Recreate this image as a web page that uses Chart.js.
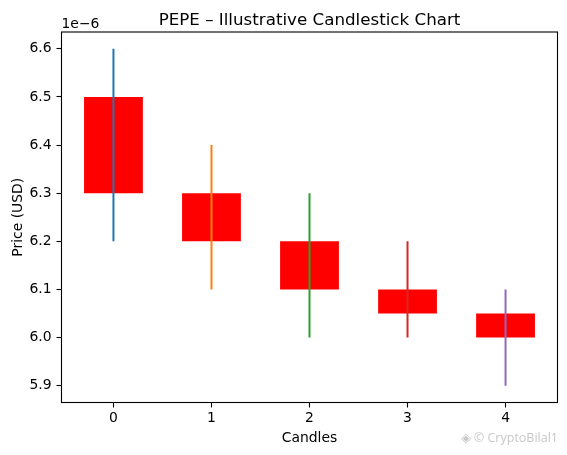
<!DOCTYPE html>
<html>
<head>
<meta charset="utf-8">
<script src="https://cdn.jsdelivr.net/npm/chart.js@4/dist/chart.umd.min.js"></script>
<style>
html,body{margin:0;padding:0;background:#fff;}
#wrap{width:567px;height:455px;position:relative;}
</style>
</head>
<body>
<div id="wrap"><canvas id="c" width="567" height="455"></canvas></div>
<script>
// ---- data ----
const candles = [0, 1, 2, 3, 4];
const opens  = [6.5e-6, 6.3e-6, 6.2e-6, 6.1e-6, 6.05e-6];
const closes = [6.3e-6, 6.2e-6, 6.1e-6, 6.05e-6, 6.0e-6];
const highs  = [6.6e-6, 6.4e-6, 6.3e-6, 6.2e-6, 6.1e-6];
const lows   = [6.2e-6, 6.1e-6, 6.0e-6, 6.0e-6, 5.9e-6];
const wickColors = ['#1f77b4', '#ff7f0e', '#2ca02c', '#d62728', '#9467bd'];
const xTicks = [0, 1, 2, 3, 4];
const yTicks = [5.9e-6, 6.0e-6, 6.1e-6, 6.2e-6, 6.3e-6, 6.4e-6, 6.5e-6, 6.6e-6];
const yTickLabels = ['5.9', '6.0', '6.1', '6.2', '6.3', '6.4', '6.5', '6.6'];
const titleText = 'PEPE \u2013 Illustrative Candlestick Chart';
const xTitle = 'Candles';
const yTitle = 'Price (USD)';
const offsetText = '1e\u22126';
const watermark = '\u25C8 \u00A9 CryptoBilal1';

const FONT = "'DejaVu Sans', sans-serif";

const datasets = [];
datasets.push({
  type: 'bar',
  label: 'body',
  data: candles.map((c, i) => ({x: c, y: [Math.min(opens[i], closes[i]), Math.max(opens[i], closes[i])]})),
  backgroundColor: '#ff0000',
  borderWidth: 0,
  barPercentage: 0.6,
  categoryPercentage: 1.0,
  order: 2
});
candles.forEach((c, i) => {
  datasets.push({
    type: 'line',
    label: 'wick' + i,
    data: [{x: c, y: lows[i]}, {x: c, y: highs[i]}],
    borderColor: wickColors[i],
    borderWidth: 2,
    pointRadius: 0,
    fill: false,
    order: 1
  });
});

const framePlugin = {
  id: 'frame',
  afterDraw(chart) {
    const ctx = chart.ctx, a = chart.chartArea;
    ctx.save();
    ctx.strokeStyle = '#000';
    ctx.lineWidth = 1.1;
    ctx.strokeRect(a.left, a.top, a.right - a.left, a.bottom - a.top);
    ctx.fillStyle = '#000';
    ctx.font = '16.7px ' + FONT;
    ctx.textAlign = 'center';
    ctx.textBaseline = 'alphabetic';
    ctx.fillText(titleText, (a.left + a.right) / 2, 24.5);
    ctx.font = '13.9px ' + FONT;
    ctx.textAlign = 'left';
    ctx.fillText(offsetText, a.left, 28);
    ctx.textAlign = 'center';
    ctx.fillText(xTitle, (a.left + a.right) / 2, 442);
    ctx.save();
    ctx.translate(22, (a.top + a.bottom) / 2);
    ctx.rotate(-Math.PI / 2);
    ctx.fillText(yTitle, 0, 0);
    ctx.restore();
    ctx.fillStyle = '#c8c8c8';
    ctx.font = "12.5px 'Open Sans', sans-serif";
    ctx.textAlign = 'right';
    ctx.textBaseline = 'middle';
    ctx.fillText(watermark, 558, 438);
    ctx.restore();
  }
};

new Chart(document.getElementById('c'), {
  data: { datasets },
  options: {
    responsive: false,
    animation: false,
    devicePixelRatio: 1,
    layout: { padding: { top: 32, right: 9.5, left: 0, bottom: 0 } },
    plugins: { legend: { display: false }, tooltip: { enabled: false }, title: { display: false } },
    scales: {
      x: {
        type: 'linear',
        min: -0.53,
        max: 4.53,
        offset: false,
        afterBuildTicks(s) { s.ticks = xTicks.map(v => ({value: v})); },
        afterFit(s) { s.height = 52.5; },
        grid: { offset: false, drawOnChartArea: false, drawTicks: true, tickLength: 5, tickColor: '#000', tickWidth: 1.1 },
        border: { display: false },
        ticks: { color: '#000', font: { family: FONT, size: 13.9 }, padding: 3, maxRotation: 0, autoSkip: false }
      },
      y: {
        type: 'linear',
        min: 5.865e-6,
        max: 6.635e-6,
        afterBuildTicks(s) { s.ticks = yTicks.map(v => ({value: v})); },
        afterFit(s) { s.width = 61.5; },
        grid: { drawOnChartArea: false, drawTicks: true, tickLength: 5, tickColor: '#000', tickWidth: 1.1 },
        border: { display: false },
        ticks: {
          color: '#000', font: { family: FONT, size: 13.9 }, padding: 5, autoSkip: false,
          callback: (v, i) => yTickLabels[i]
        }
      }
    }
  },
  plugins: [framePlugin]
});
</script>
</body>
</html>
